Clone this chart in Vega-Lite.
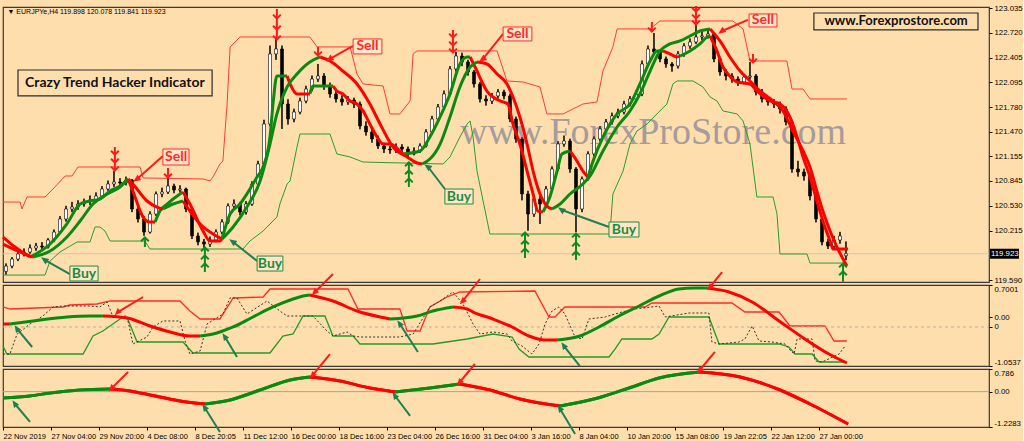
{
"$schema": "https://vega.github.io/schema/vega-lite/v6.json",
"background": "#FFDEAD",
"padding": {"left": -4, "top": 3, "right": 0, "bottom": 0},
"bounds": "flush",
"config": {"view": {"stroke": "#3A3A3A", "strokeWidth": 1.2}, "font": "Liberation Sans",
 "scale": {"continuousPadding": 0},
 "axis": {"labelOverlap": false, "labelColor": "#000000", "tickColor": "#000000", "tickSize": 3, "domain": false, "grid": false, "tickCount": 40},
 "axisX": {"labelAlign": "left", "labelFlush": false, "labelBound": false, "labelFontSize": 7.5, "labelPadding": 2},
 "axisY": {"labelFlush": true, "labelFontSize": 7.8, "labelPadding": 2}},
"spacing": 3,
"resolve": {"scale": {"x": "independent", "y": "independent"}},
"datasets": {
"cd": [
{"i":1,"o":119.700,"c":119.767,"h":119.800,"l":119.660},
{"i":3,"o":119.767,"c":119.856,"h":119.880,"l":119.740},
{"i":5,"o":119.856,"c":119.920,"h":119.950,"l":119.830},
{"i":7,"o":119.920,"c":119.945,"h":119.990,"l":119.890},
{"i":9,"o":119.945,"c":119.996,"h":120.040,"l":119.920},
{"i":11,"o":119.996,"c":120.021,"h":120.060,"l":119.960},
{"i":13,"o":120.021,"c":120.008,"h":120.070,"l":119.970},
{"i":15,"o":120.008,"c":120.097,"h":120.120,"l":119.990},
{"i":17,"o":120.097,"c":120.198,"h":120.230,"l":120.070},
{"i":19,"o":120.198,"c":120.363,"h":120.400,"l":120.180},
{"i":21,"o":120.363,"c":120.490,"h":120.530,"l":120.330},
{"i":23,"o":120.490,"c":120.515,"h":120.580,"l":120.450},
{"i":25,"o":120.515,"c":120.553,"h":120.600,"l":120.480},
{"i":27,"o":120.553,"c":120.578,"h":120.620,"l":120.520},
{"i":29,"o":120.578,"c":120.604,"h":120.660,"l":120.540},
{"i":31,"o":120.604,"c":120.654,"h":120.700,"l":120.570},
{"i":33,"o":120.654,"c":120.743,"h":120.780,"l":120.620},
{"i":35,"o":120.743,"c":120.807,"h":120.850,"l":120.720},
{"i":37,"o":120.807,"c":120.832,"h":120.971,"l":120.770},
{"i":39,"o":120.832,"c":120.820,"h":120.880,"l":120.760},
{"i":41,"o":120.820,"c":120.857,"h":120.900,"l":120.790},
{"i":43,"o":120.857,"c":120.490,"h":120.870,"l":120.450},
{"i":45,"o":120.490,"c":120.363,"h":120.530,"l":120.320},
{"i":47,"o":120.363,"c":120.198,"h":120.400,"l":120.150},
{"i":49,"o":120.198,"c":120.426,"h":120.460,"l":120.180},
{"i":51,"o":120.426,"c":120.680,"h":120.710,"l":120.400},
{"i":53,"o":120.680,"c":120.705,"h":120.760,"l":120.640},
{"i":55,"o":120.705,"c":120.781,"h":120.895,"l":120.680},
{"i":57,"o":120.781,"c":120.730,"h":120.810,"l":120.690},
{"i":59,"o":120.730,"c":120.743,"h":120.790,"l":120.700},
{"i":61,"o":120.743,"c":120.490,"h":120.760,"l":120.450},
{"i":63,"o":120.490,"c":120.148,"h":120.510,"l":120.110},
{"i":65,"o":120.148,"c":120.072,"h":120.190,"l":120.030},
{"i":67,"o":120.072,"c":120.046,"h":120.110,"l":119.983},
{"i":69,"o":120.046,"c":120.097,"h":120.140,"l":120.010},
{"i":71,"o":120.097,"c":120.198,"h":120.230,"l":120.070},
{"i":73,"o":120.198,"c":120.325,"h":120.360,"l":120.170},
{"i":75,"o":120.325,"c":120.528,"h":120.560,"l":120.300},
{"i":77,"o":120.528,"c":120.553,"h":120.610,"l":120.490},
{"i":79,"o":120.553,"c":120.452,"h":120.580,"l":120.410},
{"i":81,"o":120.452,"c":120.553,"h":120.590,"l":120.420},
{"i":83,"o":120.553,"c":120.807,"h":120.840,"l":120.530},
{"i":85,"o":120.807,"c":121.060,"h":121.100,"l":120.780},
{"i":87,"o":121.060,"c":121.567,"h":121.620,"l":121.030},
{"i":89,"o":121.567,"c":122.454,"h":122.560,"l":121.540},
{"i":91,"o":122.454,"c":122.517,"h":122.644,"l":122.380},
{"i":93,"o":122.517,"c":121.820,"h":122.560,"l":121.504},
{"i":95,"o":121.820,"c":121.630,"h":121.880,"l":121.560},
{"i":97,"o":121.630,"c":121.719,"h":121.760,"l":121.590},
{"i":99,"o":121.719,"c":121.858,"h":121.900,"l":121.690},
{"i":101,"o":121.858,"c":122.010,"h":122.050,"l":121.830},
{"i":103,"o":122.010,"c":122.137,"h":122.180,"l":121.980},
{"i":105,"o":122.137,"c":122.175,"h":122.327,"l":122.100},
{"i":107,"o":122.175,"c":122.048,"h":122.210,"l":122.000},
{"i":109,"o":122.048,"c":121.947,"h":122.090,"l":121.900},
{"i":111,"o":121.947,"c":121.884,"h":121.990,"l":121.840},
{"i":113,"o":121.884,"c":121.846,"h":121.930,"l":121.800},
{"i":115,"o":121.846,"c":121.871,"h":121.920,"l":121.810},
{"i":117,"o":121.871,"c":121.820,"h":121.900,"l":121.770},
{"i":119,"o":121.820,"c":121.541,"h":121.850,"l":121.500},
{"i":121,"o":121.541,"c":121.465,"h":121.600,"l":121.420},
{"i":123,"o":121.465,"c":121.377,"h":121.500,"l":121.330},
{"i":125,"o":121.377,"c":121.288,"h":121.420,"l":121.250},
{"i":127,"o":121.288,"c":121.250,"h":121.330,"l":121.200},
{"i":129,"o":121.250,"c":121.237,"h":121.290,"l":121.190},
{"i":131,"o":121.237,"c":121.275,"h":121.320,"l":121.200},
{"i":133,"o":121.275,"c":121.250,"h":121.310,"l":121.200},
{"i":135,"o":121.250,"c":121.187,"h":121.280,"l":121.149},
{"i":137,"o":121.187,"c":121.225,"h":121.270,"l":121.170},
{"i":139,"o":121.225,"c":121.288,"h":121.320,"l":121.200},
{"i":141,"o":121.288,"c":121.465,"h":121.500,"l":121.270},
{"i":143,"o":121.465,"c":121.630,"h":121.670,"l":121.440},
{"i":145,"o":121.630,"c":121.782,"h":121.820,"l":121.600},
{"i":147,"o":121.782,"c":121.947,"h":121.990,"l":121.760},
{"i":149,"o":121.947,"c":122.264,"h":122.300,"l":121.920},
{"i":151,"o":122.264,"c":122.428,"h":122.480,"l":122.230},
{"i":153,"o":122.428,"c":122.352,"h":122.470,"l":122.300},
{"i":155,"o":122.352,"c":122.226,"h":122.380,"l":122.180},
{"i":157,"o":122.226,"c":122.074,"h":122.250,"l":122.030},
{"i":159,"o":122.074,"c":121.884,"h":122.100,"l":121.840},
{"i":161,"o":121.884,"c":121.858,"h":121.930,"l":121.800},
{"i":163,"o":121.858,"c":121.922,"h":121.960,"l":121.820},
{"i":165,"o":121.922,"c":121.972,"h":122.010,"l":121.890},
{"i":167,"o":121.972,"c":121.922,"h":122.000,"l":121.880},
{"i":169,"o":121.922,"c":121.630,"h":121.950,"l":121.590},
{"i":171,"o":121.630,"c":121.377,"h":121.660,"l":121.330},
{"i":173,"o":121.377,"c":120.680,"h":121.400,"l":120.600},
{"i":175,"o":120.680,"c":120.426,"h":120.720,"l":120.215},
{"i":177,"o":120.426,"c":120.616,"h":120.660,"l":120.390},
{"i":179,"o":120.616,"c":120.553,"h":120.650,"l":120.300},
{"i":181,"o":120.553,"c":120.743,"h":120.780,"l":120.520},
{"i":183,"o":120.743,"c":120.997,"h":121.030,"l":120.720},
{"i":185,"o":120.997,"c":121.313,"h":121.350,"l":120.970},
{"i":187,"o":121.313,"c":121.351,"h":121.420,"l":121.280},
{"i":189,"o":121.351,"c":120.997,"h":121.380,"l":120.950},
{"i":191,"o":120.997,"c":120.490,"h":121.020,"l":120.198},
{"i":193,"o":120.490,"c":120.870,"h":120.900,"l":120.450},
{"i":195,"o":120.870,"c":121.187,"h":121.220,"l":120.850},
{"i":197,"o":121.187,"c":121.377,"h":121.410,"l":121.160},
{"i":199,"o":121.377,"c":121.504,"h":121.540,"l":121.350},
{"i":201,"o":121.504,"c":121.592,"h":121.630,"l":121.470},
{"i":203,"o":121.592,"c":121.668,"h":121.710,"l":121.560},
{"i":205,"o":121.668,"c":121.719,"h":121.760,"l":121.640},
{"i":207,"o":121.719,"c":121.820,"h":121.860,"l":121.690},
{"i":209,"o":121.820,"c":121.884,"h":121.920,"l":121.790},
{"i":211,"o":121.884,"c":121.947,"h":121.990,"l":121.860},
{"i":213,"o":121.947,"c":122.327,"h":122.370,"l":121.920},
{"i":215,"o":122.327,"c":122.517,"h":122.560,"l":122.300},
{"i":217,"o":122.517,"c":122.479,"h":122.720,"l":122.440},
{"i":219,"o":122.479,"c":122.391,"h":122.510,"l":122.350},
{"i":221,"o":122.391,"c":122.327,"h":122.420,"l":122.280},
{"i":223,"o":122.327,"c":122.302,"h":122.350,"l":122.230},
{"i":225,"o":122.302,"c":122.454,"h":122.490,"l":122.270},
{"i":227,"o":122.454,"c":122.555,"h":122.590,"l":122.420},
{"i":229,"o":122.555,"c":122.606,"h":122.650,"l":122.520},
{"i":231,"o":122.606,"c":122.669,"h":122.859,"l":122.580},
{"i":233,"o":122.669,"c":122.682,"h":122.740,"l":122.630},
{"i":235,"o":122.682,"c":122.707,"h":122.760,"l":122.650},
{"i":237,"o":122.707,"c":122.391,"h":122.730,"l":122.350},
{"i":239,"o":122.391,"c":122.226,"h":122.420,"l":122.180},
{"i":241,"o":122.226,"c":122.175,"h":122.260,"l":122.120},
{"i":243,"o":122.175,"c":122.137,"h":122.210,"l":122.090},
{"i":245,"o":122.137,"c":122.099,"h":122.170,"l":122.050},
{"i":247,"o":122.099,"c":122.162,"h":122.200,"l":122.070},
{"i":249,"o":122.162,"c":122.175,"h":122.352,"l":122.130},
{"i":251,"o":122.175,"c":121.972,"h":122.200,"l":121.930},
{"i":253,"o":121.972,"c":121.884,"h":122.010,"l":121.840},
{"i":255,"o":121.884,"c":121.846,"h":121.920,"l":121.800},
{"i":257,"o":121.846,"c":121.820,"h":121.880,"l":121.770},
{"i":259,"o":121.820,"c":121.757,"h":121.850,"l":121.700},
{"i":261,"o":121.757,"c":121.592,"h":121.790,"l":121.550},
{"i":263,"o":121.592,"c":120.997,"h":121.620,"l":120.950},
{"i":265,"o":120.997,"c":120.959,"h":121.100,"l":120.900},
{"i":267,"o":120.959,"c":120.908,"h":121.000,"l":120.850},
{"i":269,"o":120.908,"c":120.654,"h":120.940,"l":120.600},
{"i":271,"o":120.654,"c":120.363,"h":120.690,"l":120.320},
{"i":273,"o":120.363,"c":120.072,"h":120.400,"l":120.030},
{"i":275,"o":120.072,"c":120.021,"h":120.110,"l":119.983},
{"i":277,"o":120.021,"c":120.097,"h":120.150,"l":119.990},
{"i":279,"o":120.097,"c":120.148,"h":120.200,"l":120.050},
{"i":281,"o":119.898,"c":119.923,"h":120.078,"l":119.841}
],
"up": [
{"i":0,"v":120.578},{"i":5.7,"v":120.578},{"i":6.3,"v":120.490},{"i":8,"v":120.642},{"i":14,"v":120.642},{"i":17.3,"v":120.768},{"i":20.7,"v":120.908},{"i":23,"v":120.908},{"i":25,"v":121.022},{"i":45.7,"v":121.022},{"i":46.7,"v":120.883},{"i":66.7,"v":120.870},{"i":69,"v":120.845},{"i":70,"v":120.895},{"i":72.3,"v":121.060},{"i":73.3,"v":121.098},{"i":74.7,"v":121.820},{"i":75.7,"v":122.543},{"i":79,"v":122.669},{"i":102.3,"v":122.669},{"i":104.7,"v":122.543},{"i":115.7,"v":122.543},{"i":118,"v":122.200},{"i":120,"v":122.074},{"i":126.7,"v":122.048},{"i":129,"v":121.694},{"i":132.3,"v":121.694},{"i":135.7,"v":121.858},{"i":136.7,"v":122.454},{"i":138,"v":122.492},{"i":164.7,"v":122.492},{"i":168,"v":122.112},{"i":173.3,"v":122.099},{"i":179,"v":122.036},{"i":181.3,"v":121.694},{"i":186.7,"v":121.694},{"i":193.3,"v":121.820},{"i":198,"v":121.846},{"i":200,"v":122.238},{"i":203.3,"v":122.543},{"i":204.7,"v":122.771},{"i":215.7,"v":122.771},{"i":219,"v":122.872},{"i":243.3,"v":122.872},{"i":246.7,"v":122.771},{"i":249,"v":122.365},{"i":261.3,"v":122.365},{"i":263,"v":122.010},{"i":266.7,"v":122.010},{"i":269,"v":121.884},{"i":281.3,"v":121.884}
],
"dn": [
{"i":0,"v":119.653},{"i":14,"v":119.653},{"i":15.7,"v":119.831},{"i":19,"v":119.945},{"i":24.7,"v":120.072},{"i":29,"v":120.072},{"i":30.7,"v":120.262},{"i":32.3,"v":120.262},{"i":34,"v":120.211},{"i":35.7,"v":120.084},{"i":47.3,"v":120.084},{"i":49,"v":119.983},{"i":80,"v":119.983},{"i":82.3,"v":120.084},{"i":86.7,"v":120.211},{"i":91.3,"v":120.388},{"i":92.3,"v":120.553},{"i":94.7,"v":120.807},{"i":95.7,"v":120.845},{"i":98,"v":121.275},{"i":99,"v":121.440},{"i":109,"v":121.440},{"i":111.3,"v":121.187},{"i":115.7,"v":121.149},{"i":120,"v":121.085},{"i":146.7,"v":121.060},{"i":149,"v":121.149},{"i":152.3,"v":121.402},{"i":154.7,"v":121.567},{"i":155.7,"v":121.605},{"i":156.7,"v":121.402},{"i":158,"v":120.971},{"i":162.3,"v":120.173},{"i":202.3,"v":120.173},{"i":203.3,"v":120.680},{"i":206.7,"v":120.971},{"i":209,"v":121.313},{"i":211.3,"v":121.478},{"i":214.7,"v":121.567},{"i":218,"v":121.694},{"i":221.3,"v":121.820},{"i":223.3,"v":122.074},{"i":224.7,"v":122.112},{"i":230,"v":122.112},{"i":233.3,"v":122.036},{"i":235.7,"v":121.909},{"i":238,"v":121.858},{"i":240,"v":121.732},{"i":244.7,"v":121.694},{"i":246.7,"v":121.605},{"i":249,"v":121.313},{"i":251.3,"v":120.642},{"i":256.7,"v":120.642},{"i":258,"v":120.426},{"i":259,"v":119.920},{"i":268,"v":119.920},{"i":269,"v":119.805},{"i":280,"v":119.805}
],
"ma": [
{"i":0,"v":120.135,"s":"a1","c":"r"},{"i":4,"v":120.008,"s":"a1","c":"r"},{"i":9,"v":119.881,"s":"a1","c":"r"},
{"i":9,"v":119.881,"s":"a2","c":"g"},{"i":15.7,"v":120.046,"s":"a2","c":"g"},{"i":21.3,"v":120.300,"s":"a2","c":"g"},{"i":25.7,"v":120.553,"s":"a2","c":"g"},{"i":29,"v":120.591,"s":"a2","c":"g"},{"i":32.3,"v":120.616,"s":"a2","c":"g"},{"i":35.7,"v":120.718,"s":"a2","c":"g"},{"i":39,"v":120.781,"s":"a2","c":"g"},{"i":41.7,"v":120.870,"s":"a2","c":"g"},
{"i":41.7,"v":120.870,"s":"a3","c":"r"},{"i":43.3,"v":120.718,"s":"a3","c":"r"},{"i":46.7,"v":120.388,"s":"a3","c":"r"},{"i":49,"v":120.325,"s":"a3","c":"r"},{"i":50.7,"v":120.325,"s":"a3","c":"r"},
{"i":50.7,"v":120.325,"s":"a4","c":"g"},{"i":52.3,"v":120.464,"s":"a4","c":"g"},{"i":54.7,"v":120.553,"s":"a4","c":"g"},{"i":59,"v":120.680,"s":"a4","c":"g"},{"i":60,"v":120.705,"s":"a4","c":"g"},
{"i":60,"v":120.705,"s":"a5","c":"r"},{"i":62.3,"v":120.553,"s":"a5","c":"r"},{"i":66.7,"v":120.211,"s":"a5","c":"r"},{"i":69,"v":120.084,"s":"a5","c":"r"},{"i":72.3,"v":120.084,"s":"a5","c":"r"},{"i":73,"v":120.110,"s":"a5","c":"r"},
{"i":73,"v":120.110,"s":"a6","c":"g"},{"i":75.7,"v":120.426,"s":"a6","c":"g"},{"i":79,"v":120.553,"s":"a6","c":"g"},{"i":81.3,"v":120.680,"s":"a6","c":"g"},{"i":84.7,"v":120.895,"s":"a6","c":"g"},{"i":86.7,"v":121.022,"s":"a6","c":"g"},{"i":89,"v":121.402,"s":"a6","c":"g"},{"i":90,"v":121.820,"s":"a6","c":"g"},{"i":91.3,"v":122.175,"s":"a6","c":"g"},{"i":94.7,"v":122.175,"s":"a6","c":"g"},
{"i":94.7,"v":122.175,"s":"a7","c":"r"},{"i":95.7,"v":122.074,"s":"a7","c":"r"},{"i":98,"v":121.947,"s":"a7","c":"r"},{"i":102.3,"v":121.947,"s":"a7","c":"r"},
{"i":102.3,"v":121.947,"s":"a8","c":"g"},{"i":103.3,"v":122.048,"s":"a8","c":"g"},{"i":110,"v":122.048,"s":"a8","c":"g"},
{"i":110,"v":122.048,"s":"a9","c":"r"},{"i":111.3,"v":121.985,"s":"a9","c":"r"},{"i":113.3,"v":121.947,"s":"a9","c":"r"},{"i":115.7,"v":121.858,"s":"a9","c":"r"},{"i":118,"v":121.820,"s":"a9","c":"r"},{"i":120,"v":121.732,"s":"a9","c":"r"},{"i":122.3,"v":121.567,"s":"a9","c":"r"},{"i":124.7,"v":121.402,"s":"a9","c":"r"},{"i":126.7,"v":121.313,"s":"a9","c":"r"},{"i":129,"v":121.313,"s":"a9","c":"r"},{"i":132.3,"v":121.225,"s":"a9","c":"r"},{"i":133.3,"v":121.187,"s":"a9","c":"r"},
{"i":133.3,"v":121.187,"s":"a10","c":"g"},{"i":139,"v":121.225,"s":"a10","c":"g"},{"i":142.3,"v":121.402,"s":"a10","c":"g"},{"i":145.7,"v":121.656,"s":"a10","c":"g"},{"i":149,"v":121.947,"s":"a10","c":"g"},{"i":152.3,"v":122.327,"s":"a10","c":"g"},{"i":154.7,"v":122.416,"s":"a10","c":"g"},{"i":155.7,"v":122.416,"s":"a10","c":"g"},
{"i":155.7,"v":122.416,"s":"a11","c":"r"},{"i":158,"v":122.238,"s":"a11","c":"r"},{"i":160,"v":122.074,"s":"a11","c":"r"},{"i":161.3,"v":121.985,"s":"a11","c":"r"},{"i":163.3,"v":121.909,"s":"a11","c":"r"},{"i":166.7,"v":121.846,"s":"a11","c":"r"},{"i":168.3,"v":121.820,"s":"a11","c":"r"},{"i":170,"v":121.567,"s":"a11","c":"r"},{"i":172.3,"v":121.313,"s":"a11","c":"r"},{"i":174.7,"v":120.971,"s":"a11","c":"r"},{"i":176.7,"v":120.680,"s":"a11","c":"r"},{"i":178.3,"v":120.464,"s":"a11","c":"r"},{"i":180,"v":120.452,"s":"a11","c":"r"},
{"i":180,"v":120.452,"s":"a12","c":"g"},{"i":182.3,"v":120.642,"s":"a12","c":"g"},{"i":184.7,"v":120.971,"s":"a12","c":"g"},{"i":186.3,"v":121.187,"s":"a12","c":"g"},{"i":189,"v":121.225,"s":"a12","c":"g"},
{"i":189,"v":121.225,"s":"a13","c":"r"},{"i":191.3,"v":121.098,"s":"a13","c":"r"},{"i":193.3,"v":120.971,"s":"a13","c":"r"},{"i":195,"v":120.895,"s":"a13","c":"r"},
{"i":195,"v":120.895,"s":"a14","c":"g"},{"i":196.7,"v":121.098,"s":"a14","c":"g"},{"i":200,"v":121.402,"s":"a14","c":"g"},{"i":204.7,"v":121.694,"s":"a14","c":"g"},{"i":209,"v":121.820,"s":"a14","c":"g"},{"i":212.3,"v":122.074,"s":"a14","c":"g"},{"i":215.7,"v":122.365,"s":"a14","c":"g"},{"i":218,"v":122.492,"s":"a14","c":"g"},{"i":220,"v":122.492,"s":"a14","c":"g"},
{"i":220,"v":122.492,"s":"a15","c":"r"},{"i":222.3,"v":122.454,"s":"a15","c":"r"},{"i":224.7,"v":122.416,"s":"a15","c":"r"},{"i":225.7,"v":122.428,"s":"a15","c":"r"},
{"i":225.7,"v":122.428,"s":"a16","c":"g"},{"i":229,"v":122.492,"s":"a16","c":"g"},{"i":232.3,"v":122.581,"s":"a16","c":"g"},{"i":234.7,"v":122.669,"s":"a16","c":"g"},{"i":235.7,"v":122.682,"s":"a16","c":"g"},
{"i":235.7,"v":122.682,"s":"a17","c":"r"},{"i":238,"v":122.492,"s":"a17","c":"r"},{"i":240,"v":122.289,"s":"a17","c":"r"},{"i":242.3,"v":122.175,"s":"a17","c":"r"},{"i":244.7,"v":122.099,"s":"a17","c":"r"},{"i":249,"v":122.074,"s":"a17","c":"r"},{"i":251.3,"v":121.985,"s":"a17","c":"r"},{"i":255.7,"v":121.858,"s":"a17","c":"r"},{"i":259,"v":121.820,"s":"a17","c":"r"},{"i":262.3,"v":121.656,"s":"a17","c":"r"},{"i":264.7,"v":121.402,"s":"a17","c":"r"},{"i":266.7,"v":121.149,"s":"a17","c":"r"},{"i":269,"v":120.895,"s":"a17","c":"r"},{"i":271.3,"v":120.591,"s":"a17","c":"r"},{"i":273.3,"v":120.338,"s":"a17","c":"r"},{"i":275.7,"v":120.084,"s":"a17","c":"r"},{"i":276.7,"v":119.983,"s":"a17","c":"r"},{"i":281.7,"v":119.983,"s":"a17","c":"r"},
{"i":0,"v":120.046,"s":"b1","c":"r"},{"i":5,"v":119.957,"s":"b1","c":"r"},{"i":10,"v":119.881,"s":"b1","c":"r"},
{"i":10,"v":119.881,"s":"b2","c":"g"},{"i":15.7,"v":119.957,"s":"b2","c":"g"},{"i":21.3,"v":120.135,"s":"b2","c":"g"},{"i":25.7,"v":120.338,"s":"b2","c":"g"},{"i":30,"v":120.553,"s":"b2","c":"g"},{"i":34.7,"v":120.680,"s":"b2","c":"g"},{"i":39,"v":120.769,"s":"b2","c":"g"},{"i":41.7,"v":120.870,"s":"b2","c":"g"},
{"i":41.7,"v":120.870,"s":"b3","c":"r"},{"i":43.3,"v":120.807,"s":"b3","c":"r"},{"i":48,"v":120.591,"s":"b3","c":"r"},{"i":51.3,"v":120.515,"s":"b3","c":"r"},{"i":53.3,"v":120.490,"s":"b3","c":"r"},
{"i":53.3,"v":120.490,"s":"b4","c":"g"},{"i":56.7,"v":120.553,"s":"b4","c":"g"},{"i":60,"v":120.591,"s":"b4","c":"g"},
{"i":60,"v":120.591,"s":"b5","c":"r"},{"i":62.3,"v":120.464,"s":"b5","c":"r"},{"i":65.7,"v":120.300,"s":"b5","c":"r"},{"i":70,"v":120.173,"s":"b5","c":"r"},{"i":73,"v":120.110,"s":"b5","c":"r"},
{"i":73,"v":120.110,"s":"b6","c":"g"},{"i":76.7,"v":120.262,"s":"b6","c":"g"},{"i":81.3,"v":120.515,"s":"b6","c":"g"},{"i":85.7,"v":120.845,"s":"b6","c":"g"},{"i":89,"v":121.313,"s":"b6","c":"g"},{"i":91.3,"v":121.694,"s":"b6","c":"g"},{"i":94.7,"v":122.036,"s":"b6","c":"g"},{"i":98,"v":122.200,"s":"b6","c":"g"},{"i":102.3,"v":122.352,"s":"b6","c":"g"},{"i":105.7,"v":122.416,"s":"b6","c":"g"},
{"i":105.7,"v":122.416,"s":"b7","c":"r"},{"i":109,"v":122.365,"s":"b7","c":"r"},{"i":113.3,"v":122.238,"s":"b7","c":"r"},{"i":118,"v":122.074,"s":"b7","c":"r"},{"i":122.3,"v":121.820,"s":"b7","c":"r"},{"i":125.7,"v":121.567,"s":"b7","c":"r"},{"i":130,"v":121.275,"s":"b7","c":"r"},{"i":134.7,"v":121.149,"s":"b7","c":"r"},{"i":138,"v":121.073,"s":"b7","c":"r"},{"i":139.7,"v":121.060,"s":"b7","c":"r"},
{"i":139.7,"v":121.060,"s":"b8","c":"g"},{"i":142.3,"v":121.123,"s":"b8","c":"g"},{"i":145.7,"v":121.313,"s":"b8","c":"g"},{"i":149,"v":121.656,"s":"b8","c":"g"},{"i":152.3,"v":122.036,"s":"b8","c":"g"},{"i":155.7,"v":122.289,"s":"b8","c":"g"},{"i":158,"v":122.352,"s":"b8","c":"g"},
{"i":158,"v":122.352,"s":"b9","c":"r"},{"i":161.3,"v":122.327,"s":"b9","c":"r"},{"i":164.7,"v":122.200,"s":"b9","c":"r"},{"i":168,"v":122.074,"s":"b9","c":"r"},{"i":170,"v":121.909,"s":"b9","c":"r"},{"i":172.3,"v":121.656,"s":"b9","c":"r"},{"i":174.7,"v":121.313,"s":"b9","c":"r"},{"i":176.7,"v":120.971,"s":"b9","c":"r"},{"i":179,"v":120.680,"s":"b9","c":"r"},{"i":181.3,"v":120.528,"s":"b9","c":"r"},{"i":183,"v":120.490,"s":"b9","c":"r"},
{"i":183,"v":120.490,"s":"b10","c":"g"},{"i":185.7,"v":120.553,"s":"b10","c":"g"},{"i":189,"v":120.680,"s":"b10","c":"g"},{"i":193.3,"v":120.807,"s":"b10","c":"g"},{"i":195.7,"v":120.908,"s":"b10","c":"g"},{"i":200,"v":121.225,"s":"b10","c":"g"},{"i":204.7,"v":121.529,"s":"b10","c":"g"},{"i":209,"v":121.732,"s":"b10","c":"g"},{"i":212.3,"v":121.947,"s":"b10","c":"g"},{"i":215.7,"v":122.238,"s":"b10","c":"g"},{"i":219,"v":122.492,"s":"b10","c":"g"},{"i":222.3,"v":122.581,"s":"b10","c":"g"},{"i":225.7,"v":122.619,"s":"b10","c":"g"},{"i":229,"v":122.682,"s":"b10","c":"g"},{"i":232.3,"v":122.745,"s":"b10","c":"g"},{"i":235.7,"v":122.771,"s":"b10","c":"g"},
{"i":235.7,"v":122.771,"s":"b11","c":"r"},{"i":239,"v":122.619,"s":"b11","c":"r"},{"i":242.3,"v":122.416,"s":"b11","c":"r"},{"i":245.7,"v":122.238,"s":"b11","c":"r"},{"i":249,"v":122.112,"s":"b11","c":"r"},{"i":252.3,"v":121.985,"s":"b11","c":"r"},{"i":256.7,"v":121.858,"s":"b11","c":"r"},{"i":260,"v":121.732,"s":"b11","c":"r"},{"i":263.3,"v":121.478,"s":"b11","c":"r"},{"i":266.7,"v":121.225,"s":"b11","c":"r"},{"i":269,"v":121.022,"s":"b11","c":"r"},{"i":271.3,"v":120.718,"s":"b11","c":"r"},{"i":273.3,"v":120.464,"s":"b11","c":"r"},{"i":275.7,"v":120.211,"s":"b11","c":"r"},{"i":278,"v":120.008,"s":"b11","c":"r"},{"i":281.3,"v":119.767,"s":"b11","c":"r"}
],
"tx": [
{"k":"wm","i":216.7,"v":121.453,"t":"www.ForexProStore.com"},
{"k":"hd","i":1.5,"v":122.986,"t":"▼  EURJPYe,H4  119.898 120.078 119.841 119.923"}
],
"bx": [
{"k":"ttl","t":"Crazy Trend Hacker Indicator","i":5,"i2":69.7,"v":122.251,"v2":121.922,"ti":37.3,"tv":122.086},
{"k":"site","t":"www.Forexprostore.com","i":270.3,"i2":325,"v":122.973,"v2":122.758,"ti":297.7,"tv":122.866},
{"k":"sell","t":"Sell","i":53.3,"i2":62,"v":121.250,"v2":121.047,"ti":57.7,"tv":121.149},
{"k":"sell","t":"Sell","i":116.7,"i2":126.3,"v":122.644,"v2":122.454,"ti":121.5,"tv":122.549},
{"k":"sell","t":"Sell","i":166.7,"i2":176.3,"v":122.796,"v2":122.619,"ti":171.5,"tv":122.707},
{"k":"sell","t":"Sell","i":248.7,"i2":258,"v":122.961,"v2":122.796,"ti":253.3,"tv":122.878},
{"k":"buy","t":"Buy","i":22.3,"i2":31.7,"v":119.767,"v2":119.578,"ti":27,"tv":119.672},
{"k":"buy","t":"Buy","i":84.7,"i2":93.3,"v":119.894,"v2":119.704,"ti":89,"tv":119.799},
{"k":"buy","t":"Buy","i":147.3,"i2":156.7,"v":120.743,"v2":120.553,"ti":152,"tv":120.648},
{"k":"buy","t":"Buy","i":202,"i2":212,"v":120.325,"v2":120.135,"ti":207,"tv":120.230}
],
"arr": [
{"p":"m","d":"r","i":53.3,"v":121.161,"i2":44.7,"v2":120.870},
{"p":"m","d":"r","i":116.7,"v":122.555,"i2":109,"v2":122.391},
{"p":"m","d":"r","i":166.7,"v":122.707,"i2":160,"v2":122.391},
{"p":"m","d":"r","i":248.3,"v":122.885,"i2":239.7,"v2":122.745},
{"p":"m","d":"g","i":22.3,"v":119.666,"i2":14,"v2":119.843},
{"p":"m","d":"g","i":84.7,"v":119.831,"i2":76.7,"v2":120.072},
{"p":"m","d":"g","i":147.3,"v":120.743,"i2":141.7,"v2":121.022},
{"p":"m","d":"g","i":202,"v":120.262,"i2":186.3,"v2":120.477},
{"p":"a","d":"r","i":46.7,"v":0.44,"i2":38.3,"v2":0.115},
{"p":"a","d":"r","i":110,"v":0.938,"i2":104,"v2":0.549},
{"p":"a","d":"r","i":159,"v":0.83,"i2":153.3,"v2":0.354},
{"p":"a","d":"r","i":239.7,"v":0.98,"i2":235.7,"v2":0.657},
{"p":"a","d":"g","i":9.7,"v":-0.642,"i2":4.7,"v2":-0.252},
{"p":"a","d":"g","i":78,"v":-0.859,"i2":74,"v2":-0.426},
{"p":"a","d":"g","i":138.3,"v":-0.751,"i2":132.3,"v2":-0.144},
{"p":"a","d":"g","i":192.3,"v":-1.054,"i2":187,"v2":-0.621},
{"p":"b","d":"r","i":41.7,"v":0.682,"i2":36.3,"v2":0.127},
{"p":"b","d":"r","i":109,"v":1.3,"i2":103.3,"v2":0.578},
{"p":"b","d":"r","i":157.3,"v":0.96,"i2":152.3,"v2":0.335},
{"p":"b","d":"r","i":237.3,"v":1.38,"i2":232.3,"v2":0.751},
{"p":"b","d":"g","i":9,"v":-1.053,"i2":4,"v2":-0.429},
{"p":"b","d":"g","i":72.3,"v":-1.4,"i2":67.3,"v2":-0.567},
{"p":"b","d":"g","i":135.7,"v":-0.845,"i2":130.7,"v2":-0.151},
{"p":"b","d":"g","i":190.7,"v":-1.47,"i2":185.7,"v2":-0.602}
],
"va": [
{"d":"r","i":37.3,"v":121.275,"v2":120.971},{"d":"r","i":91.3,"v":123.024,"v2":122.644},{"d":"r","i":150,"v":122.758,"v2":122.479},{"d":"r","i":231,"v":123.062,"v2":122.834},{"d":"r","i":55,"v":121.009,"v2":120.883},{"d":"r","i":105,"v":122.543,"v2":122.428},{"d":"r","i":216.3,"v":122.859,"v2":122.733},{"d":"r","i":250,"v":122.454,"v2":122.340},
{"d":"g","i":67.3,"v":120.008,"v2":119.691},{"d":"g","i":135.3,"v":121.085,"v2":120.769},{"d":"g","i":174,"v":120.198,"v2":119.869},{"d":"g","i":191,"v":120.186,"v2":119.843},{"d":"g","i":280,"v":119.805,"v2":119.568},{"d":"g","i":47.3,"v":120.135,"v2":120.008}
],
"ch": [
{"d":"r","i":37.3,"v":121.199},{"d":"r","i":37.3,"v":121.098},{"d":"r","i":37.3,"v":120.997},{"d":"r","i":91.3,"v":122.923},{"d":"r","i":91.3,"v":122.783},{"d":"r","i":91.3,"v":122.657},{"d":"r","i":150,"v":122.682},{"d":"r","i":150,"v":122.581},{"d":"r","i":150,"v":122.492},{"d":"r","i":231,"v":123.011},{"d":"r","i":231,"v":122.923},{"d":"r","i":231,"v":122.847},{"d":"r","i":55,"v":120.908},{"d":"r","i":105,"v":122.454},{"d":"r","i":216.3,"v":122.758},{"d":"r","i":250,"v":122.365},
{"d":"g","i":67.3,"v":119.983},{"d":"g","i":67.3,"v":119.881},{"d":"g","i":67.3,"v":119.780},{"d":"g","i":135.3,"v":121.060},{"d":"g","i":135.3,"v":120.959},{"d":"g","i":135.3,"v":120.857},{"d":"g","i":174,"v":120.173},{"d":"g","i":174,"v":120.072},{"d":"g","i":174,"v":119.970},{"d":"g","i":191,"v":120.160},{"d":"g","i":191,"v":120.046},{"d":"g","i":191,"v":119.932},{"d":"g","i":280,"v":119.780},{"d":"g","i":280,"v":119.679},{"d":"g","i":47.3,"v":120.110}
],
"lp": [{"i0":0,"i":328.67,"v":119.923,"t":"119.923"}],
"u1": [
{"i":0,"v":0.224},{"i":2.3,"v":0.180},{"i":20,"v":0.224},{"i":22.3,"v":0.267},{"i":31.3,"v":0.289},{"i":35.7,"v":0.354},{"i":59,"v":0.354},{"i":62.3,"v":0.137},{"i":65.7,"v":-0.036},{"i":72.3,"v":-0.036},{"i":76.7,"v":0.419},{"i":86.7,"v":0.440},{"i":89,"v":0.614},{"i":115,"v":0.614},{"i":118.3,"v":0.180},{"i":132.3,"v":0.180},{"i":134.7,"v":-0.296},{"i":139,"v":-0.296},{"i":142.3,"v":0.224},{"i":148,"v":0.440},{"i":152.3,"v":0.549},{"i":177.3,"v":0.570},{"i":182,"v":0.007},{"i":184,"v":0.007},{"i":187.3,"v":0.224},{"i":214,"v":0.224},{"i":216.3,"v":0.310},{"i":243,"v":0.310},{"i":247.3,"v":0.115},{"i":258.7,"v":0.115},{"i":262.3,"v":-0.188},{"i":274,"v":-0.188},{"i":277,"v":-0.512},{"i":281.3,"v":-0.512}
],
"d1": [
{"i":0,"v":-0.621},{"i":1.3,"v":-0.794},{"i":26.7,"v":-0.794},{"i":30,"v":-0.404},{"i":33.3,"v":-0.296},{"i":39,"v":-0.036},{"i":41.3,"v":0.007},{"i":44.7,"v":-0.534},{"i":60,"v":-0.534},{"i":63.3,"v":-0.772},{"i":89,"v":-0.772},{"i":93.3,"v":-0.404},{"i":96.7,"v":-0.361},{"i":100,"v":0.029},{"i":107.3,"v":0.029},{"i":110,"v":-0.404},{"i":116.7,"v":-0.404},{"i":119,"v":-0.577},{"i":143.3,"v":-0.577},{"i":154.7,"v":-0.469},{"i":163.3,"v":-0.361},{"i":169.7,"v":-0.426},{"i":172,"v":-0.686},{"i":175.3,"v":-0.859},{"i":202,"v":-0.859},{"i":204,"v":-0.686},{"i":206.3,"v":-0.469},{"i":216.3,"v":-0.469},{"i":218.7,"v":-0.361},{"i":222,"v":0.007},{"i":235.3,"v":0.007},{"i":238.7,"v":-0.577},{"i":258.7,"v":-0.577},{"i":262,"v":-0.642},{"i":264,"v":-0.794},{"i":269.7,"v":-0.794},{"i":272,"v":-0.967},{"i":280.7,"v":-0.967}
],
"k1": [
{"i":0,"v":-0.794},{"i":2.3,"v":-0.794},{"i":4.7,"v":-0.361},{"i":9,"v":-0.144},{"i":13.3,"v":0.029},{"i":16.7,"v":0.224},{"i":20,"v":0.245},{"i":29,"v":0.245},{"i":32.3,"v":0.224},{"i":34.7,"v":0.332},{"i":36.7,"v":0.007},{"i":41.3,"v":0.029},{"i":43.3,"v":-0.577},{"i":48,"v":-0.426},{"i":50,"v":-0.209},{"i":53.3,"v":-0.079},{"i":59,"v":-0.079},{"i":60.7,"v":-0.512},{"i":62.3,"v":-0.794},{"i":65.7,"v":-0.729},{"i":68,"v":-0.144},{"i":73.3,"v":0.072},{"i":75.7,"v":0.419},{"i":78,"v":0.419},{"i":81.3,"v":0.072},{"i":88,"v":0.354},{"i":92.3,"v":0.137},{"i":94.7,"v":0.029},{"i":103.3,"v":0.029},{"i":108,"v":-0.296},{"i":110,"v":-0.404},{"i":114.7,"v":-0.317},{"i":116.7,"v":-0.404},{"i":119,"v":-0.426},{"i":132.3,"v":-0.426},{"i":136.7,"v":-0.361},{"i":142.3,"v":0.224},{"i":145.7,"v":0.354},{"i":150,"v":0.549},{"i":153.3,"v":0.289},{"i":156.7,"v":-0.144},{"i":159,"v":-0.361},{"i":163.3,"v":-0.317},{"i":168,"v":-0.361},{"i":169.7,"v":-0.512},{"i":173,"v":-0.621},{"i":176.3,"v":-0.794},{"i":178.7,"v":-0.577},{"i":180.7,"v":-0.144},{"i":183,"v":0.137},{"i":185.3,"v":0.224},{"i":187.3,"v":0.072},{"i":190.7,"v":-0.426},{"i":193,"v":-0.469},{"i":195.3,"v":-0.036},{"i":200.7,"v":0.007},{"i":206.3,"v":0.115},{"i":210.7,"v":0.180},{"i":218.7,"v":0.245},{"i":220.7,"v":0.007},{"i":228.7,"v":0.094},{"i":235.3,"v":0.094},{"i":236.3,"v":-0.534},{"i":238.7,"v":-0.577},{"i":245.3,"v":-0.534},{"i":247.3,"v":-0.469},{"i":249.7,"v":-0.188},{"i":252,"v":-0.512},{"i":256.3,"v":-0.534},{"i":260.7,"v":-0.577},{"i":262,"v":-0.686},{"i":263.7,"v":-0.794},{"i":264.7,"v":-0.469},{"i":269.7,"v":-0.469},{"i":270.7,"v":-0.945},{"i":273,"v":-0.967},{"i":278.7,"v":-0.794},{"i":280.7,"v":-0.621}
],
"o1": [
{"i":0,"v":-0.144,"s":"1","c":"r"},{"i":2.3,"v":-0.144,"s":"1","c":"r"},
{"i":2.3,"v":-0.144,"s":"2","c":"g"},{"i":10,"v":-0.079,"s":"2","c":"g"},{"i":21.3,"v":0.007,"s":"2","c":"g"},{"i":29,"v":0.029,"s":"2","c":"g"},{"i":33.3,"v":0.029,"s":"2","c":"g"},
{"i":33.3,"v":0.029,"s":"3","c":"r"},{"i":41.3,"v":-0.014,"s":"3","c":"r"},{"i":49,"v":-0.188,"s":"3","c":"r"},{"i":55.7,"v":-0.317,"s":"3","c":"r"},{"i":62.3,"v":-0.404,"s":"3","c":"r"},{"i":65.7,"v":-0.404,"s":"3","c":"r"},
{"i":65.7,"v":-0.404,"s":"4","c":"g"},{"i":70,"v":-0.361,"s":"4","c":"g"},{"i":72.3,"v":-0.317,"s":"4","c":"g"},{"i":76.7,"v":-0.209,"s":"4","c":"g"},{"i":83.3,"v":0.007,"s":"4","c":"g"},{"i":90,"v":0.224,"s":"4","c":"g"},{"i":96.7,"v":0.397,"s":"4","c":"g"},{"i":100,"v":0.462,"s":"4","c":"g"},{"i":102.3,"v":0.484,"s":"4","c":"g"},
{"i":102.3,"v":0.484,"s":"5","c":"r"},{"i":110,"v":0.354,"s":"5","c":"r"},{"i":118,"v":0.137,"s":"5","c":"r"},{"i":125.7,"v":0.007,"s":"5","c":"r"},{"i":129,"v":-0.036,"s":"5","c":"r"},
{"i":129,"v":-0.036,"s":"6","c":"g"},{"i":138,"v":0.029,"s":"6","c":"g"},{"i":143.3,"v":0.137,"s":"6","c":"g"},{"i":150,"v":0.224,"s":"6","c":"g"},
{"i":150,"v":0.224,"s":"7","c":"r"},{"i":154.7,"v":0.180,"s":"7","c":"r"},{"i":156.7,"v":0.115,"s":"7","c":"r"},{"i":163.3,"v":-0.036,"s":"7","c":"r"},{"i":169.7,"v":-0.209,"s":"7","c":"r"},{"i":175.3,"v":-0.404,"s":"7","c":"r"},{"i":180.7,"v":-0.491,"s":"7","c":"r"},{"i":184.7,"v":-0.491,"s":"7","c":"r"},
{"i":184.7,"v":-0.491,"s":"8","c":"g"},{"i":192.3,"v":-0.404,"s":"8","c":"g"},{"i":198.7,"v":-0.209,"s":"8","c":"g"},{"i":205.3,"v":0.029,"s":"8","c":"g"},{"i":212,"v":0.245,"s":"8","c":"g"},{"i":218.7,"v":0.462,"s":"8","c":"g"},{"i":225.3,"v":0.614,"s":"8","c":"g"},{"i":230.3,"v":0.635,"s":"8","c":"g"},{"i":234.7,"v":0.635,"s":"8","c":"g"},
{"i":234.7,"v":0.635,"s":"9","c":"r"},{"i":242,"v":0.549,"s":"9","c":"r"},{"i":249.7,"v":0.332,"s":"9","c":"r"},{"i":258.7,"v":-0.079,"s":"9","c":"r"},{"i":267.3,"v":-0.469,"s":"9","c":"r"},{"i":275.3,"v":-0.794,"s":"9","c":"r"},{"i":281.3,"v":-0.989,"s":"9","c":"r"}
],
"o2": [
{"i":0,"v":-0.220,"s":"1","c":"g"},{"i":9,"v":-0.151,"s":"1","c":"g"},{"i":15.7,"v":-0.047,"s":"1","c":"g"},{"i":25.7,"v":0.057,"s":"1","c":"g"},{"i":35.7,"v":0.092,"s":"1","c":"g"},
{"i":35.7,"v":0.092,"s":"2","c":"r"},{"i":42.3,"v":0.023,"s":"2","c":"r"},{"i":49,"v":-0.116,"s":"2","c":"r"},{"i":59,"v":-0.324,"s":"2","c":"r"},{"i":67.3,"v":-0.429,"s":"2","c":"r"},
{"i":67.3,"v":-0.429,"s":"3","c":"g"},{"i":75.7,"v":-0.290,"s":"3","c":"g"},{"i":85.7,"v":0.057,"s":"3","c":"g"},{"i":95.7,"v":0.404,"s":"3","c":"g"},{"i":102.3,"v":0.508,"s":"3","c":"g"},
{"i":102.3,"v":0.508,"s":"4","c":"r"},{"i":112.3,"v":0.370,"s":"4","c":"r"},{"i":122.3,"v":0.127,"s":"4","c":"r"},{"i":130.7,"v":-0.012,"s":"4","c":"r"},
{"i":130.7,"v":-0.012,"s":"5","c":"g"},{"i":142.3,"v":0.127,"s":"5","c":"g"},{"i":152.3,"v":0.266,"s":"5","c":"g"},
{"i":152.3,"v":0.266,"s":"6","c":"r"},{"i":162.3,"v":0.057,"s":"6","c":"r"},{"i":172.3,"v":-0.255,"s":"6","c":"r"},{"i":185.7,"v":-0.498,"s":"6","c":"r"},
{"i":185.7,"v":-0.498,"s":"7","c":"g"},{"i":198.3,"v":-0.220,"s":"7","c":"g"},{"i":208.7,"v":0.127,"s":"7","c":"g"},{"i":218.7,"v":0.474,"s":"7","c":"g"},{"i":232.3,"v":0.682,"s":"7","c":"g"},
{"i":232.3,"v":0.682,"s":"8","c":"r"},{"i":245.7,"v":0.508,"s":"8","c":"r"},{"i":259,"v":0.057,"s":"8","c":"r"},{"i":269,"v":-0.429,"s":"8","c":"r"},{"i":281.7,"v":-1.123,"s":"8","c":"r"}
]
},
"vconcat": [
{
"width": 986, "height": 275,
"layer": [
{"data": {"name": "cd"}, "mark": {"type": "rule", "color": "#000000", "strokeWidth": 1},
 "encoding": {"x": {"field": "i", "type": "quantitative", "scale": {"domain": [0, 328.67], "nice": false, "zero": false}, "axis": null},
  "y": {"field": "l", "type": "quantitative", "scale": {"domain": [119.565, 123.049], "nice": false, "zero": false},
   "axis": {"orient": "right", "values": [123.035, 122.72, 122.405, 122.095, 121.78, 121.47, 121.155, 120.845, 120.53, 120.215, 119.59], "format": ".3f", "title": null, "tickCount": 40, "labelOverlap": false}},
  "y2": {"field": "h"}}},
{"data": {"name": "tx"}, "transform": [{"filter": "datum.k == 'wm'"}],
 "mark": {"type": "text", "font": "Liberation Serif", "fontSize": 38, "fill": "#8E8C9A", "opacity": 0.8, "baseline": "middle", "align": "center"},
 "encoding": {"x": {"field": "i", "type": "quantitative", "scale": {"domain": [0, 328.67], "nice": false, "zero": false}, "axis": null},
  "y": {"field": "v", "type": "quantitative", "scale": {"domain": [119.565, 123.049], "nice": false, "zero": false}},
  "text": {"field": "t"}}},
{"data": {"name": "lp"}, "mark": {"type": "rule", "color": "#CFC6BC", "strokeWidth": 1.2},
 "encoding": {"x": {"field": "i0", "type": "quantitative", "scale": {"domain": [0, 328.67], "nice": false, "zero": false}, "axis": null},
  "x2": {"field": "i"},
  "y": {"field": "v", "type": "quantitative", "scale": {"domain": [119.565, 123.049], "nice": false, "zero": false}}}},
{"data": {"name": "up"}, "mark": {"type": "line", "color": "#FF3A3A", "strokeWidth": 1},
 "encoding": {"x": {"field": "i", "type": "quantitative", "scale": {"domain": [0, 328.67], "nice": false, "zero": false}, "axis": null},
  "y": {"field": "v", "type": "quantitative", "scale": {"domain": [119.565, 123.049], "nice": false, "zero": false}}}},
{"data": {"name": "dn"}, "mark": {"type": "line", "color": "#2E9A2E", "strokeWidth": 1},
 "encoding": {"x": {"field": "i", "type": "quantitative", "scale": {"domain": [0, 328.67], "nice": false, "zero": false}, "axis": null},
  "y": {"field": "v", "type": "quantitative", "scale": {"domain": [119.565, 123.049], "nice": false, "zero": false}}}},
{"data": {"name": "cd"}, "mark": {"type": "rule", "color": "#000000", "strokeWidth": 1},
 "encoding": {"x": {"field": "i", "type": "quantitative", "scale": {"domain": [0, 328.67], "nice": false, "zero": false}, "axis": null},
  "y": {"field": "l", "type": "quantitative", "scale": {"domain": [119.565, 123.049], "nice": false, "zero": false}},
  "y2": {"field": "h"}}},
{"data": {"name": "cd"}, "mark": {"type": "bar", "width": 3, "stroke": "#000000", "strokeWidth": 0.6},
 "encoding": {"x": {"field": "i", "type": "quantitative", "scale": {"domain": [0, 328.67], "nice": false, "zero": false}, "axis": null},
  "y": {"field": "o", "type": "quantitative", "scale": {"domain": [119.565, 123.049], "nice": false, "zero": false}},
  "y2": {"field": "c"},
  "fill": {"condition": {"test": "datum.c >= datum.o", "value": "#FFFFFF"}, "value": "#000000"}}},
{"data": {"name": "ma"}, "mark": {"type": "line", "strokeWidth": 3, "interpolate": "monotone"},
 "encoding": {"x": {"field": "i", "type": "quantitative", "scale": {"domain": [0, 328.67], "nice": false, "zero": false}, "axis": null},
  "y": {"field": "v", "type": "quantitative", "scale": {"domain": [119.565, 123.049], "nice": false, "zero": false}},
  "color": {"field": "c", "type": "nominal", "scale": {"domain": ["g", "r"], "range": ["#0B8A12", "#FF0000"]}, "legend": null},
  "detail": {"field": "s"}}},
{"data": {"name": "va"}, "transform": [{"filter": "datum.d == 'r'"}], "mark": {"type": "rule", "color": "#FF1A1A", "strokeWidth": 2},
 "encoding": {"x": {"field": "i", "type": "quantitative", "scale": {"domain": [0, 328.67], "nice": false, "zero": false}, "axis": null},
  "y": {"field": "v", "type": "quantitative", "scale": {"domain": [119.565, 123.049], "nice": false, "zero": false}},
  "y2": {"field": "v2"}}},
{"data": {"name": "va"}, "transform": [{"filter": "datum.d == 'g'"}], "mark": {"type": "rule", "color": "#0F8A1F", "strokeWidth": 2},
 "encoding": {"x": {"field": "i", "type": "quantitative", "scale": {"domain": [0, 328.67], "nice": false, "zero": false}, "axis": null},
  "y": {"field": "v", "type": "quantitative", "scale": {"domain": [119.565, 123.049], "nice": false, "zero": false}},
  "y2": {"field": "v2"}}},
{"data": {"name": "ch"}, "transform": [{"filter": "datum.d == 'r'"}], "mark": {"type": "point", "shape": "M -1 -0.6 L 0 0.4 L 1 -0.6", "filled": false, "stroke": "#FF1A1A", "strokeWidth": 2, "size": 60, "opacity": 1},
 "encoding": {"x": {"field": "i", "type": "quantitative", "scale": {"domain": [0, 328.67], "nice": false, "zero": false}, "axis": null},
  "y": {"field": "v", "type": "quantitative", "scale": {"domain": [119.565, 123.049], "nice": false, "zero": false}}}},
{"data": {"name": "ch"}, "transform": [{"filter": "datum.d == 'g'"}], "mark": {"type": "point", "shape": "M -1 0.6 L 0 -0.4 L 1 0.6", "filled": false, "stroke": "#0F8A1F", "strokeWidth": 2, "size": 60, "opacity": 1},
 "encoding": {"x": {"field": "i", "type": "quantitative", "scale": {"domain": [0, 328.67], "nice": false, "zero": false}, "axis": null},
  "y": {"field": "v", "type": "quantitative", "scale": {"domain": [119.565, 123.049], "nice": false, "zero": false}}}},
{"data": {"name": "arr"}, "transform": [{"filter": "datum.p == 'm' && datum.d == 'r'"}], "mark": {"type": "rule", "color": "#FF1A1A", "strokeWidth": 2},
 "encoding": {"x": {"field": "i", "type": "quantitative", "scale": {"domain": [0, 328.67], "nice": false, "zero": false}, "axis": null},
  "y": {"field": "v", "type": "quantitative", "scale": {"domain": [119.565, 123.049], "nice": false, "zero": false}},
  "x2": {"field": "i2"}, "y2": {"field": "v2"}}},
{"data": {"name": "arr"}, "transform": [{"filter": "datum.p == 'm' && datum.d == 'r'"}], "mark": {"type": "point", "shape": "M -1 0 L 0.6 -0.7 L 0.6 0.7 Z", "filled": true, "color": "#FF1A1A", "size": 90, "angle": -35, "opacity": 1},
 "encoding": {"x": {"field": "i2", "type": "quantitative", "scale": {"domain": [0, 328.67], "nice": false, "zero": false}, "axis": null},
  "y": {"field": "v2", "type": "quantitative", "scale": {"domain": [119.565, 123.049], "nice": false, "zero": false}}}},
{"data": {"name": "arr"}, "transform": [{"filter": "datum.p == 'm' && datum.d == 'g'"}], "mark": {"type": "rule", "color": "#1C8050", "strokeWidth": 2},
 "encoding": {"x": {"field": "i", "type": "quantitative", "scale": {"domain": [0, 328.67], "nice": false, "zero": false}, "axis": null},
  "y": {"field": "v", "type": "quantitative", "scale": {"domain": [119.565, 123.049], "nice": false, "zero": false}},
  "x2": {"field": "i2"}, "y2": {"field": "v2"}}},
{"data": {"name": "arr"}, "transform": [{"filter": "datum.p == 'm' && datum.d == 'g'"}], "mark": {"type": "point", "shape": "M -1 0 L 0.6 -0.7 L 0.6 0.7 Z", "filled": true, "color": "#1C8050", "size": 90, "angle": 35, "opacity": 1},
 "encoding": {"x": {"field": "i2", "type": "quantitative", "scale": {"domain": [0, 328.67], "nice": false, "zero": false}, "axis": null},
  "y": {"field": "v2", "type": "quantitative", "scale": {"domain": [119.565, 123.049], "nice": false, "zero": false}}}},
{"data": {"name": "bx"}, "transform": [{"filter": "datum.k == 'ttl' || datum.k == 'site'"}], "mark": {"type": "rect", "fill": "#FFDEAD", "stroke": "#2A2A2A", "strokeWidth": 1.2},
 "encoding": {"x": {"field": "i", "type": "quantitative", "scale": {"domain": [0, 328.67], "nice": false, "zero": false}, "axis": null},
  "y": {"field": "v", "type": "quantitative", "scale": {"domain": [119.565, 123.049], "nice": false, "zero": false}},
  "x2": {"field": "i2"}, "y2": {"field": "v2"}}},
{"data": {"name": "bx"}, "transform": [{"filter": "datum.k == 'sell'"}], "mark": {"type": "rect", "fill": "#FFE6C8", "stroke": "#FF2A2A", "strokeWidth": 1},
 "encoding": {"x": {"field": "i", "type": "quantitative", "scale": {"domain": [0, 328.67], "nice": false, "zero": false}, "axis": null},
  "y": {"field": "v", "type": "quantitative", "scale": {"domain": [119.565, 123.049], "nice": false, "zero": false}},
  "x2": {"field": "i2"}, "y2": {"field": "v2"}}},
{"data": {"name": "bx"}, "transform": [{"filter": "datum.k == 'buy'"}], "mark": {"type": "rect", "fill": "#FFE6C8", "stroke": "#1E8C3C", "strokeWidth": 1},
 "encoding": {"x": {"field": "i", "type": "quantitative", "scale": {"domain": [0, 328.67], "nice": false, "zero": false}, "axis": null},
  "y": {"field": "v", "type": "quantitative", "scale": {"domain": [119.565, 123.049], "nice": false, "zero": false}},
  "x2": {"field": "i2"}, "y2": {"field": "v2"}}},
{"data": {"name": "bx"}, "transform": [{"filter": "datum.k == 'ttl'"}], "mark": {"type": "text", "font": "Lato", "fontWeight": "bold", "fontSize": 14, "fill": "#111111", "align": "center", "baseline": "middle"},
 "encoding": {"x": {"field": "ti", "type": "quantitative", "scale": {"domain": [0, 328.67], "nice": false, "zero": false}, "axis": null},
  "y": {"field": "tv", "type": "quantitative", "scale": {"domain": [119.565, 123.049], "nice": false, "zero": false}},
  "text": {"field": "t"}}},
{"data": {"name": "bx"}, "transform": [{"filter": "datum.k == 'site'"}], "mark": {"type": "text", "font": "Lato", "fontWeight": "bold", "fontSize": 13, "fill": "#111111", "align": "center", "baseline": "middle"},
 "encoding": {"x": {"field": "ti", "type": "quantitative", "scale": {"domain": [0, 328.67], "nice": false, "zero": false}, "axis": null},
  "y": {"field": "tv", "type": "quantitative", "scale": {"domain": [119.565, 123.049], "nice": false, "zero": false}},
  "text": {"field": "t"}}},
{"data": {"name": "bx"}, "transform": [{"filter": "datum.k == 'sell'"}], "mark": {"type": "text", "font": "Lato", "fontWeight": "bold", "fontSize": 14, "fill": "#FF2A2A", "align": "center", "baseline": "middle"},
 "encoding": {"x": {"field": "ti", "type": "quantitative", "scale": {"domain": [0, 328.67], "nice": false, "zero": false}, "axis": null},
  "y": {"field": "tv", "type": "quantitative", "scale": {"domain": [119.565, 123.049], "nice": false, "zero": false}},
  "text": {"field": "t"}}},
{"data": {"name": "bx"}, "transform": [{"filter": "datum.k == 'buy'"}], "mark": {"type": "text", "font": "Lato", "fontWeight": "bold", "fontSize": 14, "fill": "#1E8C3C", "align": "center", "baseline": "middle"},
 "encoding": {"x": {"field": "ti", "type": "quantitative", "scale": {"domain": [0, 328.67], "nice": false, "zero": false}, "axis": null},
  "y": {"field": "tv", "type": "quantitative", "scale": {"domain": [119.565, 123.049], "nice": false, "zero": false}},
  "text": {"field": "t"}}},
{"data": {"name": "tx"}, "transform": [{"filter": "datum.k == 'hd'"}], "mark": {"type": "text", "fontSize": 7, "fill": "#000000", "align": "left", "baseline": "middle"},
 "encoding": {"x": {"field": "i", "type": "quantitative", "scale": {"domain": [0, 328.67], "nice": false, "zero": false}, "axis": null},
  "y": {"field": "v", "type": "quantitative", "scale": {"domain": [119.565, 123.049], "nice": false, "zero": false}},
  "text": {"field": "t"}}},
{"data": {"name": "lp"}, "mark": {"type": "rect", "fill": "#000000", "xOffset": 1, "x2Offset": 30, "yOffset": -5, "y2Offset": 5},
 "encoding": {"x": {"field": "i", "type": "quantitative", "scale": {"domain": [0, 328.67], "nice": false, "zero": false}, "axis": null},
  "x2": {"field": "i"},
  "y": {"field": "v", "type": "quantitative", "scale": {"domain": [119.565, 123.049], "nice": false, "zero": false}},
  "y2": {"field": "v"}}},
{"data": {"name": "lp"}, "mark": {"type": "text", "fontSize": 7.8, "fill": "#FFFFFF", "align": "left", "baseline": "middle", "dx": 2},
 "encoding": {"x": {"field": "i", "type": "quantitative", "scale": {"domain": [0, 328.67], "nice": false, "zero": false}, "axis": null},
  "y": {"field": "v", "type": "quantitative", "scale": {"domain": [119.565, 123.049], "nice": false, "zero": false}},
  "text": {"field": "t"}}}
]
},
{
"width": 986, "height": 81,
"layer": [
{"data": {"name": "u1"}, "mark": {"type": "line", "color": "#FF2A2A", "strokeWidth": 1.3},
 "encoding": {"x": {"field": "i", "type": "quantitative", "scale": {"domain": [0, 328.67], "nice": false, "zero": false}, "axis": null},
  "y": {"field": "v", "type": "quantitative", "scale": {"domain": [-1.0537, 0.7001], "nice": false, "zero": false},
   "axis": {"orient": "right", "values": [0.7001, 0, -0.209, -1.0537], "labelExpr": "datum.value > 0.5 ? '0.7001' : datum.value == 0 ? '0.00' : datum.value < -1 ? '-1.0537' : '0'", "title": null, "tickCount": 40, "labelOverlap": false}}}},
{"data": {"values": [{"i0": 0, "i": 328.67, "v": -0.209}]}, "mark": {"type": "rule", "color": "#B8B0A8", "strokeWidth": 1, "strokeDash": [3, 3]},
 "encoding": {"x": {"field": "i0", "type": "quantitative", "scale": {"domain": [0, 328.67], "nice": false, "zero": false}, "axis": null},
  "x2": {"field": "i"},
  "y": {"field": "v", "type": "quantitative", "scale": {"domain": [-1.0537, 0.7001], "nice": false, "zero": false}}}},
{"data": {"name": "d1"}, "mark": {"type": "line", "color": "#239A23", "strokeWidth": 1.3},
 "encoding": {"x": {"field": "i", "type": "quantitative", "scale": {"domain": [0, 328.67], "nice": false, "zero": false}, "axis": null},
  "y": {"field": "v", "type": "quantitative", "scale": {"domain": [-1.0537, 0.7001], "nice": false, "zero": false}}}},
{"data": {"name": "k1"}, "mark": {"type": "line", "color": "#333333", "strokeWidth": 1, "strokeDash": [2, 2]},
 "encoding": {"x": {"field": "i", "type": "quantitative", "scale": {"domain": [0, 328.67], "nice": false, "zero": false}, "axis": null},
  "y": {"field": "v", "type": "quantitative", "scale": {"domain": [-1.0537, 0.7001], "nice": false, "zero": false}}}},
{"data": {"name": "o1"}, "mark": {"type": "line", "strokeWidth": 3, "interpolate": "monotone"},
 "encoding": {"x": {"field": "i", "type": "quantitative", "scale": {"domain": [0, 328.67], "nice": false, "zero": false}, "axis": null},
  "y": {"field": "v", "type": "quantitative", "scale": {"domain": [-1.0537, 0.7001], "nice": false, "zero": false}},
  "color": {"field": "c", "type": "nominal", "scale": {"domain": ["g", "r"], "range": ["#0B8A12", "#FF0000"]}, "legend": null},
  "detail": {"field": "s"}}},
{"data": {"name": "arr"}, "transform": [{"filter": "datum.p == 'a' && datum.d == 'r'"}], "mark": {"type": "rule", "color": "#FF1A1A", "strokeWidth": 2},
 "encoding": {"x": {"field": "i", "type": "quantitative", "scale": {"domain": [0, 328.67], "nice": false, "zero": false}, "axis": null},
  "y": {"field": "v", "type": "quantitative", "scale": {"domain": [-1.0537, 0.7001], "nice": false, "zero": false}},
  "x2": {"field": "i2"}, "y2": {"field": "v2"}}},
{"data": {"name": "arr"}, "transform": [{"filter": "datum.p == 'a' && datum.d == 'r'"}], "mark": {"type": "point", "shape": "M -1 0 L 0.6 -0.7 L 0.6 0.7 Z", "filled": true, "color": "#FF1A1A", "size": 80, "angle": -45, "opacity": 1},
 "encoding": {"x": {"field": "i2", "type": "quantitative", "scale": {"domain": [0, 328.67], "nice": false, "zero": false}, "axis": null},
  "y": {"field": "v2", "type": "quantitative", "scale": {"domain": [-1.0537, 0.7001], "nice": false, "zero": false}}}},
{"data": {"name": "arr"}, "transform": [{"filter": "datum.p == 'a' && datum.d == 'g'"}], "mark": {"type": "rule", "color": "#1C8050", "strokeWidth": 2},
 "encoding": {"x": {"field": "i", "type": "quantitative", "scale": {"domain": [0, 328.67], "nice": false, "zero": false}, "axis": null},
  "y": {"field": "v", "type": "quantitative", "scale": {"domain": [-1.0537, 0.7001], "nice": false, "zero": false}},
  "x2": {"field": "i2"}, "y2": {"field": "v2"}}},
{"data": {"name": "arr"}, "transform": [{"filter": "datum.p == 'a' && datum.d == 'g'"}], "mark": {"type": "point", "shape": "M -1 0 L 0.6 -0.7 L 0.6 0.7 Z", "filled": true, "color": "#1C8050", "size": 80, "angle": 55, "opacity": 1},
 "encoding": {"x": {"field": "i2", "type": "quantitative", "scale": {"domain": [0, 328.67], "nice": false, "zero": false}, "axis": null},
  "y": {"field": "v2", "type": "quantitative", "scale": {"domain": [-1.0537, 0.7001], "nice": false, "zero": false}}}}
]
},
{
"width": 986, "height": 58,
"layer": [
{"data": {"name": "o2"}, "mark": {"type": "line", "strokeWidth": 3, "interpolate": "monotone"},
 "encoding": {"x": {"field": "i", "type": "quantitative", "scale": {"domain": [0, 328.67], "nice": false, "zero": false},
   "axis": {"orient": "bottom", "values": [0, 16, 32, 48, 64, 80, 96, 112, 128, 144, 160, 176, 192, 208, 224, 240, 256, 272], "labelExpr": "['22 Nov 2019','27 Nov 04:00','29 Nov 20:00','4 Dec 08:00','8 Dec 20:05','11 Dec 12:00','16 Dec 00:00','18 Dec 16:00','23 Dec 04:00','26 Dec 16:00','31 Dec 04:00','3 Jan 16:00','8 Jan 04:00','10 Jan 20:00','15 Jan 08:00','19 Jan 22:05','22 Jan 12:00','27 Jan 00:00'][round(datum.value / 16)]", "labelAlign": "left", "labelFlush": false, "title": null, "tickCount": 40, "labelOverlap": false}},
  "y": {"field": "v", "type": "quantitative", "scale": {"domain": [-1.2283, 0.786], "nice": false, "zero": false},
   "axis": {"orient": "right", "values": [0.786, 0, -1.2283], "labelExpr": "datum.value > 0.5 ? '0.786' : datum.value == 0 ? '0.00' : '-1.2283'", "title": null, "tickCount": 40, "labelOverlap": false}},
  "color": {"field": "c", "type": "nominal", "scale": {"domain": ["g", "r"], "range": ["#0B8A12", "#FF0000"]}, "legend": null},
  "detail": {"field": "s"}}},
{"data": {"values": [{"i0": 0, "i": 328.67, "v": 0}]}, "mark": {"type": "rule", "color": "#A8A29C", "strokeWidth": 1},
 "encoding": {"x": {"field": "i0", "type": "quantitative", "scale": {"domain": [0, 328.67], "nice": false, "zero": false}},
  "x2": {"field": "i"},
  "y": {"field": "v", "type": "quantitative", "scale": {"domain": [-1.2283, 0.786], "nice": false, "zero": false}}}},
{"data": {"name": "o2"}, "mark": {"type": "line", "strokeWidth": 3, "interpolate": "monotone"},
 "encoding": {"x": {"field": "i", "type": "quantitative", "scale": {"domain": [0, 328.67], "nice": false, "zero": false}},
  "y": {"field": "v", "type": "quantitative", "scale": {"domain": [-1.2283, 0.786], "nice": false, "zero": false}},
  "color": {"field": "c", "type": "nominal", "scale": {"domain": ["g", "r"], "range": ["#0B8A12", "#FF0000"]}, "legend": null},
  "detail": {"field": "s"}}},
{"data": {"name": "arr"}, "transform": [{"filter": "datum.p == 'b' && datum.d == 'r'"}], "mark": {"type": "rule", "color": "#FF1A1A", "strokeWidth": 2},
 "encoding": {"x": {"field": "i", "type": "quantitative", "scale": {"domain": [0, 328.67], "nice": false, "zero": false}},
  "y": {"field": "v", "type": "quantitative", "scale": {"domain": [-1.2283, 0.786], "nice": false, "zero": false}},
  "x2": {"field": "i2"}, "y2": {"field": "v2"}}},
{"data": {"name": "arr"}, "transform": [{"filter": "datum.p == 'b' && datum.d == 'r'"}], "mark": {"type": "point", "shape": "M -1 0 L 0.6 -0.7 L 0.6 0.7 Z", "filled": true, "color": "#FF1A1A", "size": 80, "angle": -50, "opacity": 1},
 "encoding": {"x": {"field": "i2", "type": "quantitative", "scale": {"domain": [0, 328.67], "nice": false, "zero": false}},
  "y": {"field": "v2", "type": "quantitative", "scale": {"domain": [-1.2283, 0.786], "nice": false, "zero": false}}}},
{"data": {"name": "arr"}, "transform": [{"filter": "datum.p == 'b' && datum.d == 'g'"}], "mark": {"type": "rule", "color": "#1C8050", "strokeWidth": 2},
 "encoding": {"x": {"field": "i", "type": "quantitative", "scale": {"domain": [0, 328.67], "nice": false, "zero": false}},
  "y": {"field": "v", "type": "quantitative", "scale": {"domain": [-1.2283, 0.786], "nice": false, "zero": false}},
  "x2": {"field": "i2"}, "y2": {"field": "v2"}}},
{"data": {"name": "arr"}, "transform": [{"filter": "datum.p == 'b' && datum.d == 'g'"}], "mark": {"type": "point", "shape": "M -1 0 L 0.6 -0.7 L 0.6 0.7 Z", "filled": true, "color": "#1C8050", "size": 80, "angle": 55, "opacity": 1},
 "encoding": {"x": {"field": "i2", "type": "quantitative", "scale": {"domain": [0, 328.67], "nice": false, "zero": false}},
  "y": {"field": "v2", "type": "quantitative", "scale": {"domain": [-1.2283, 0.786], "nice": false, "zero": false}}}}
]
}
]
}
